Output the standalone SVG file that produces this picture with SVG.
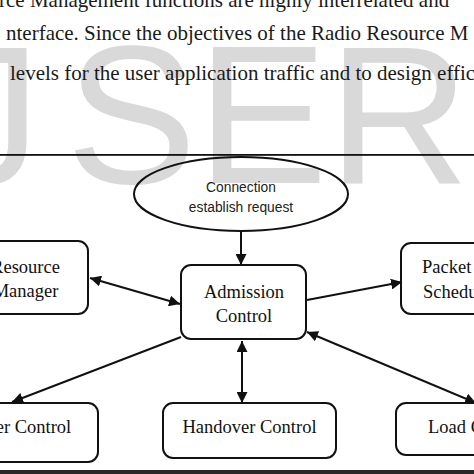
<svg xmlns="http://www.w3.org/2000/svg" width="474" height="474" viewBox="0 0 474 474">
<defs>
<style>
.wm{font-family:"Liberation Sans",Arial,sans-serif;font-size:196px;fill:#d9d9d9}
.para{font-family:"Liberation Serif","Times New Roman",serif;font-size:21px;fill:#1a1a1a}
.box{fill:none;stroke:#111;stroke-width:2}
.lbl{font-family:"Liberation Serif","Times New Roman",serif;font-size:18.5px;fill:#111;text-anchor:middle}
.sans{font-family:"Liberation Sans",Arial,sans-serif;font-size:13.8px;fill:#222;text-anchor:middle}
.edge{fill:none;stroke:#111;stroke-width:2}
</style>
<marker id="ah" viewBox="0 0 10 10" refX="10" refY="5" markerWidth="5.5" markerHeight="5.5" markerUnits="strokeWidth" orient="auto-start-reverse">
<path d="M0,0 L10,5 L0,10 z" fill="#111"/>
</marker>
</defs>
<rect width="474" height="474" fill="#ffffff"/>
<text class="wm" y="183"><tspan x="-110">I</tspan><tspan x="-57">J</tspan><tspan x="66">S</tspan><tspan x="197">E</tspan><tspan x="328">R</tspan></text>
<g id="paragraph">
<text class="para" x="-1" y="6.5">rce Management functions are highly interrelated and</text>
<text class="para" x="6" y="40">nterface. Since the objectives of the Radio Resource M</text>
<text class="para" x="10" y="80">levels for the user application traffic and to design effic</text>
</g>
<rect x="0" y="154" width="474" height="1.8" fill="#111"/>
<rect x="0" y="470" width="474" height="4" fill="#2a2a2a"/>
<g id="connectors">
<line class="edge" x1="241" y1="231" x2="241" y2="265" marker-end="url(#ah)"/>
<line class="edge" x1="90" y1="278" x2="180" y2="304" marker-start="url(#ah)" marker-end="url(#ah)"/>
<line class="edge" x1="307" y1="300" x2="402" y2="282" marker-end="url(#ah)"/>
<line class="edge" x1="181" y1="337" x2="12" y2="402" marker-end="url(#ah)"/>
<line class="edge" x1="242" y1="341" x2="242" y2="403" marker-start="url(#ah)" marker-end="url(#ah)"/>
<line class="edge" x1="307" y1="332" x2="476" y2="403" marker-start="url(#ah)" marker-end="url(#ah)"/>
</g>
<g id="connection-request">
<ellipse class="box" cx="241" cy="194" rx="107" ry="37"/>
<text class="sans" x="241" y="191.5">Connection</text>
<text class="sans" x="241" y="211.5">establish request</text>
</g>
<g id="admission-control">
<rect class="box" x="181" y="265" width="125" height="74" rx="10"/>
<text class="lbl" x="244" y="298">Admission</text>
<text class="lbl" x="244" y="322">Control</text>
</g>
<g id="resource-manager">
<rect class="box" x="-40" y="241" width="128" height="73" rx="10"/>
<text class="lbl" x="25.5" y="273">Resource</text>
<text class="lbl" x="25.5" y="297">Manager</text>
</g>
<g id="packet-scheduler">
<rect class="box" x="401" y="243" width="130" height="71" rx="10"/>
<text class="lbl" x="422" y="273" style="text-anchor:start">Packet</text>
<text class="lbl" x="423" y="298" style="text-anchor:start">Scheduler</text>
</g>
<g id="power-control">
<rect class="box" x="-64" y="403" width="162" height="59" rx="10"/>
<text class="lbl" x="17" y="433">Power Control</text>
</g>
<g id="handover-control">
<rect class="box" x="163" y="403" width="173" height="55" rx="10"/>
<text class="lbl" x="249.5" y="433">Handover Control</text>
</g>
<g id="load-control">
<rect class="box" x="396" y="403" width="160" height="52" rx="10"/>
<text class="lbl" x="428" y="433" style="text-anchor:start">Load Control</text>
</g>
</svg>
